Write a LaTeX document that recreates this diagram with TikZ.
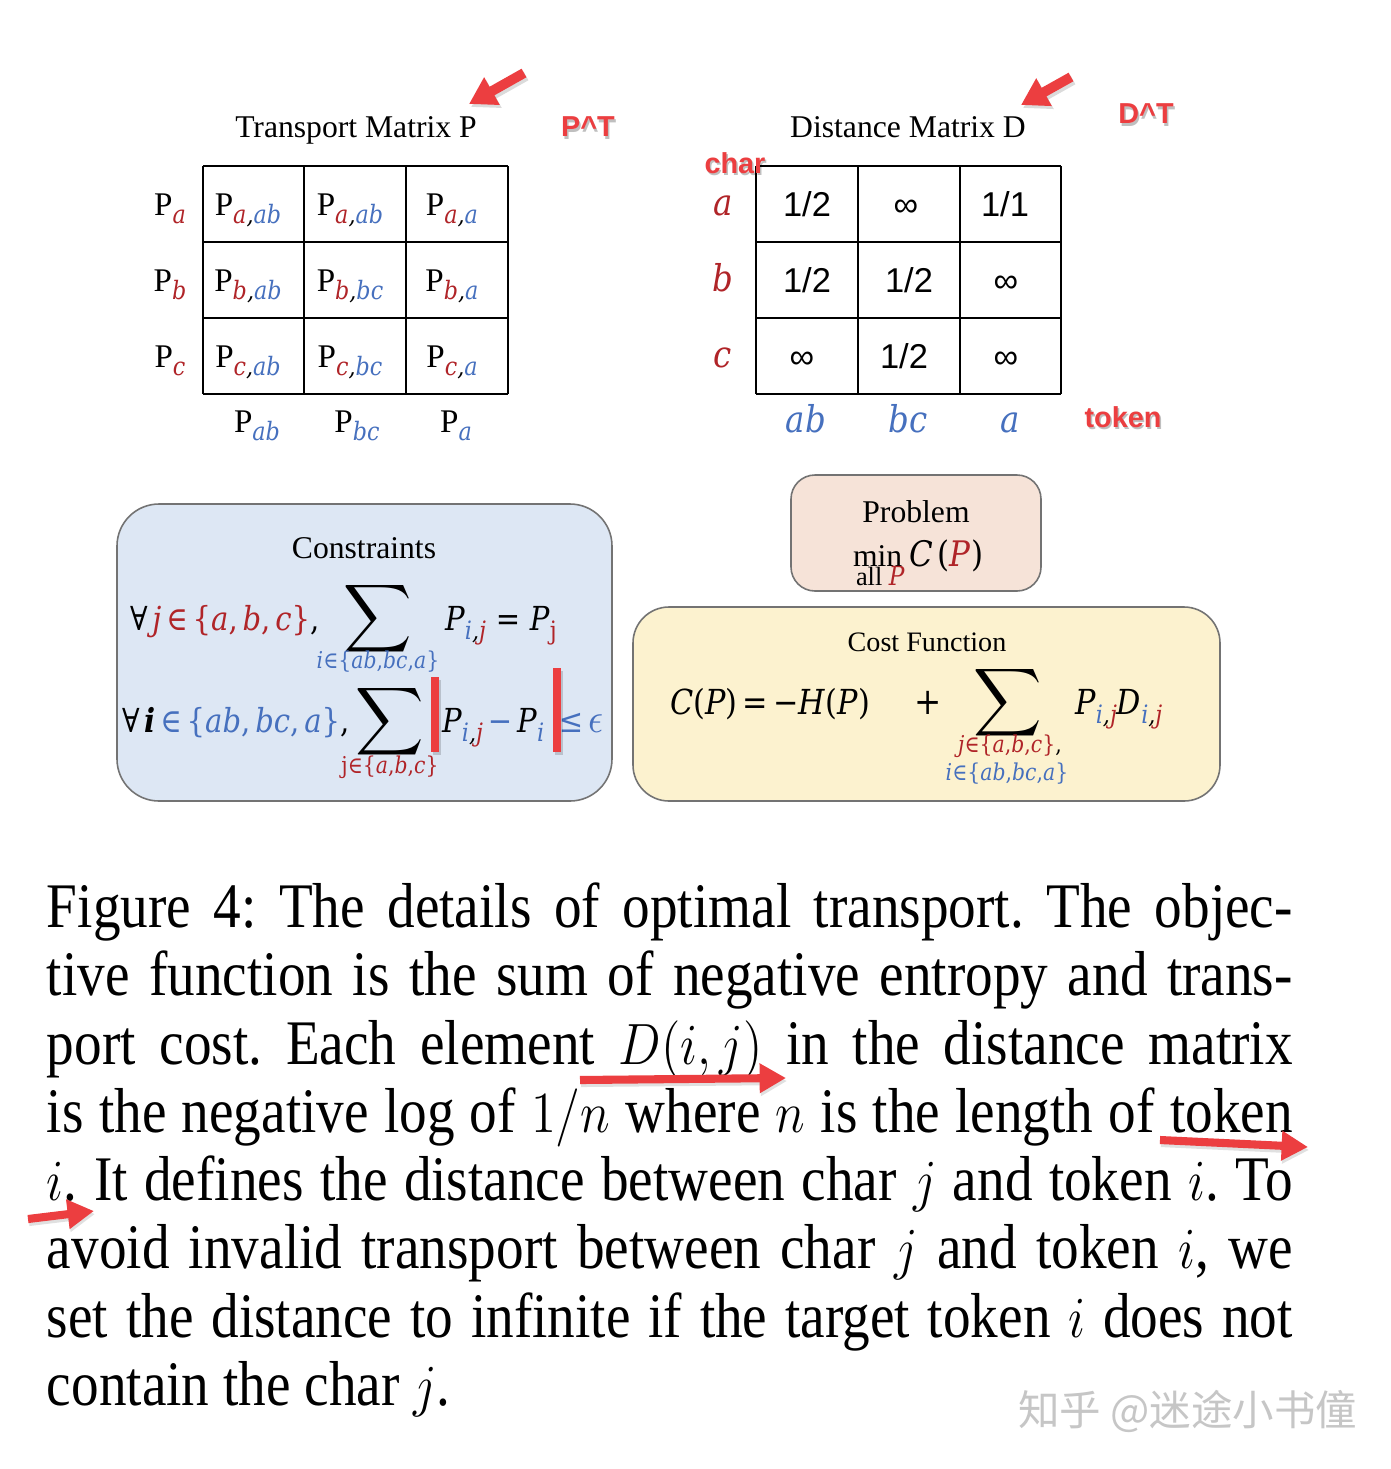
\documentclass[tikz,border=0pt]{standalone}
\usepackage{fontspec}
\usepackage{graphicx}
\setmainfont{Liberation Serif}
\newfontfamily\sansf{Liberation Sans}
\newfontfamily\mf{DejaVu Serif}
\newfontfamily\cjkf{Noto Sans CJK SC}
\usetikzlibrary{arrows.meta}
\definecolor{cred}{RGB}{176,36,40}
\definecolor{cblue}{RGB}{70,112,190}
\definecolor{annred}{RGB}{236,62,64}
\definecolor{boxblue}{RGB}{221,231,244}
\definecolor{boxpeach}{RGB}{246,227,216}
\definecolor{boxyellow}{RGB}{252,242,207}
\definecolor{boxedge}{RGB}{115,115,115}
\newcommand\rd[1]{\textcolor{cred}{#1}}
\newcommand\bl[1]{\textcolor{cblue}{#1}}
\newcommand\cz[1]{\scalebox{0.88}[1]{\mf #1}}
\newcommand\subf{\fontsize{7.2pt}{8pt}\selectfont}
\newcommand\psub[2]{P\raisebox{-0.25em}{\subf\cz{\itshape\rd{#1},\bl{#2}}}}
\newcommand\rsub[1]{P\raisebox{-0.25em}{\subf\cz{\itshape\rd{#1}}}}
\newcommand\bsub[1]{P\raisebox{-0.25em}{\subf\cz{\itshape\bl{#1}}}}
\newcommand\msub[1]{\raisebox{-0.28em}{\fontsize{7.2pt}{8pt}\selectfont #1}}
\newcommand\bigsum{\scalebox{1.35}{$\displaystyle\sum$}}
\newcommand\capl[1]{\scalebox{1}[1.15]{\makebox[12.45cm][s]{\frenchspacing #1}}}
\tikzset{
  ttl/.style={anchor=base,font=\fontsize{9pt}{10pt}\selectfont},
  cell/.style={anchor=base,font=\fontsize{9.4pt}{10pt}\selectfont},
  num/.style={anchor=base,font=\sansf\fontsize{9.8pt}{10pt}\selectfont},
  lab/.style={anchor=base,font=\fontsize{10.5pt}{11pt}\selectfont},
  gridline/.style={line width=0.8pt,black},
  anntext/.style={font=\sansf\bfseries\fontsize{8.2pt}{9pt}\selectfont,text=annred},
  fatarrow/.style={annred,line width=2.8pt,-{Triangle[length=7.5pt,width=8.5pt]}},
  fatshadow/.style={black,opacity=.14,line width=2.8pt,-{Triangle[length=7.5pt,width=8.5pt]}},
  capar/.style={annred,line width=2.3pt,-{Triangle[length=7.5pt,width=8pt]}},
  caparshadow/.style={black,opacity=.12,line width=2.3pt,-{Triangle[length=7.5pt,width=8pt]}},
  bar/.style={annred,line width=2.3pt},
  barshadow/.style={black,opacity=.16,line width=2.3pt},
  rbox/.style={draw=boxedge,line width=0.45pt},
  mth/.style={anchor=base west,font=\fontsize{9.4pt}{11pt}\selectfont},
  smallsub/.style={font=\fontsize{6.6pt}{8pt}\selectfont},
  capline/.style={anchor=base west,font=\fontsize{15.7pt}{18pt}\selectfont},
}
\newcommand\annot[4]{%
  \node[anntext,text=black,opacity=.25] at (#1+1.5,#2+2.5) {#4};
  \node[anntext] (#3) at (#1,#2) {#4};}
\begin{document}
\begin{tikzpicture}[x=0.01cm,y=-0.01cm,every node/.style={inner sep=0pt,outer sep=0pt}]
\useasboundingbox (0,0) rectangle (1390,1469);
\fill[white] (0,0) rectangle (1390,1469);

% ---------- titles
\node[ttl] (tP) at (356,137) {Transport Matrix P};
\node[ttl] (tD) at (908,137) {Distance Matrix D};

% ---------- left grid
\foreach \x in {203,304,406,508} \draw[gridline] (\x,166) -- (\x,394);
\foreach \y in {166,242,318,394} \draw[gridline] (203,\y) -- (508,\y);
\node[cell] (p11) at (248,215) {\psub{a}{ab}};
\node[cell] (p12) at (350,215) {\psub{a}{ab}};
\node[cell] (p13) at (452,215) {\psub{a}{a}};
\node[cell] (p21) at (248,291) {\psub{b}{ab}};
\node[cell] (p22) at (350,291) {\psub{b}{bc}};
\node[cell] (p23) at (452,291) {\psub{b}{a}};
\node[cell] (p31) at (248,367) {\psub{c}{ab}};
\node[cell] (p32) at (350,367) {\psub{c}{bc}};
\node[cell] (p33) at (452,367) {\psub{c}{a}};
\node[cell] (ra) at (170,215) {\rsub{a}};
\node[cell] (rb) at (170,291) {\rsub{b}};
\node[cell] (rc) at (170,367) {\rsub{c}};
\node[cell] (cab) at (257,432) {\bsub{ab}};
\node[cell] (cbc) at (357,432) {\bsub{bc}};
\node[cell] (ca) at (456,432) {\bsub{a}};

% ---------- right grid
\foreach \x in {756,858,960,1061} \draw[gridline] (\x,166) -- (\x,394);
\foreach \y in {166,242,318,394} \draw[gridline] (756,\y) -- (1061,\y);
\node[num] (d11) at (807,216) {1/2};
\node[num] (d12) at (906,216) {∞};
\node[num] (d13) at (1005,216) {1/1};
\node[num] (d21) at (807,292) {1/2};
\node[num] (d22) at (909,292) {1/2};
\node[num] (d23) at (1006,292) {∞};
\node[num] (d31) at (802,368) {∞};
\node[num] (d32) at (904,368) {1/2};
\node[num] (d33) at (1006,368) {∞};
\node[lab] (la) at (723,215) {\cz{\itshape\rd{a}}};
\node[lab] (lb) at (723,291) {\cz{\itshape\rd{b}}};
\node[lab] (lc) at (723,367) {\cz{\itshape\rd{c}}};
\node[lab] (lab) at (806,432) {\cz{\itshape\bl{ab}}};
\node[lab] (lbc) at (908,432) {\cz{\itshape\bl{bc}}};
\node[lab] (la2) at (1010,432) {\cz{\itshape\bl{a}}};

% ---------- annotations top
\annot{588}{127}{aPT}{P\textasciicircum T}
\annot{1146}{114}{aDT}{D\textasciicircum T}
\annot{735}{163}{achar}{char}
\annot{1123}{417}{atok}{token}
\coordinate (a1s) at (524,73);
\coordinate (a1e) at (469,104);
\coordinate (a2s) at (1071,77);
\coordinate (a2e) at (1021,105);
\coordinate (a1ss) at (526,76);
\coordinate (a1es) at (471,107);
\coordinate (a2ss) at (1073,80);
\coordinate (a2es) at (1023,108);
\draw[fatshadow] (a1ss) -- (a1es);
\draw[fatshadow] (a2ss) -- (a2es);
\draw[fatarrow] (a1s) -- (a1e);
\draw[fatarrow] (a2s) -- (a2e);

% ---------- constraints box
\draw[rbox,fill=boxblue,rounded corners=0.42cm] (117,504) rectangle (612,801);
\node[ttl] (cT) at (364,558) {Constraints};
\node[mth] (c1a) at (130,630) {\cz{∀\,\rd{\textit{j}\,∈\,\{\textit{a},\,\textit{b},\,\textit{c}\}},}};
\node (c1s) at (378,619) {\bigsum};
\node[smallsub] (c1u) at (378,662) {\cz{\bl{\textit{i}∈\{\textit{ab},\textit{bc},\textit{a}\}}}};
\node[mth] (c1b) at (445,630) {\cz{\textit{P}\msub{\itshape\bl{i},\rd{j}}\,\,=\,\,\textit{P}\msub{\rd{j}}}};
\node[mth] (c2a) at (122,732) {\cz{∀\,\textbf{\textit{i}}\,\bl{∈\,\{\textit{ab},\,\textit{bc},\,\textit{a}\}},}};
\node (c2s) at (390,722) {\bigsum};
\node[smallsub] (c2u) at (390,767) {\cz{\rd{j∈\{\textit{a},\textit{b},\textit{c}\}}}};
\node[mth] (c2b) at (442,732) {\cz{\textit{P}\msub{\itshape\bl{i},\rd{j}}\,\bl{−}\,\textit{P}\msub{\itshape\bl{i}}\,\,\,\bl{≤\,\scalebox{1.3}{$\epsilon$}}}};
\coordinate (b1t) at (435,677);
\coordinate (b1b) at (435,752);
\coordinate (b2t) at (557,668);
\coordinate (b2b) at (557,752);
\coordinate (b1ts) at (437,680);
\coordinate (b1bs) at (437,755);
\coordinate (b2ts) at (559,671);
\coordinate (b2bs) at (559,755);
\draw[barshadow] (b1ts) -- (b1bs);
\draw[barshadow] (b2ts) -- (b2bs);
\draw[bar] (b1t) -- (b1b);
\draw[bar] (b2t) -- (b2b);

% ---------- problem box
\draw[rbox,fill=boxpeach,rounded corners=0.24cm] (791,475) rectangle (1041,591);
\node[ttl] (pT) at (916,522) {Problem};
\node[anchor=base west,font=\fontsize{9pt}{10pt}\selectfont] (pmin) at (853,566) {min};
\node[anchor=base west,font=\fontsize{10pt}{11pt}\selectfont] (pC) at (909,566) {\cz{\textit{C}\,(\rd{\textit{P}})}};
\node[anchor=base west,font=\fontsize{7.5pt}{8pt}\selectfont] (pall) at (856,585) {all \rd{\cz{\itshape P}}};

% ---------- cost function box
\draw[rbox,fill=boxyellow,rounded corners=0.36cm] (633,607) rectangle (1220,801);
\node[anchor=base,font=\fontsize{8pt}{9pt}\selectfont] (fT) at (927,651) {Cost Function};
\node[anchor=base west,font=\fontsize{9.8pt}{11pt}\selectfont] (f1) at (670,714) {\cz{\textit{C}(\textit{P})\,=\,−\textit{H}(\textit{P})}};
\node[font=\fontsize{10.5pt}{11pt}\selectfont] (fplus) at (928,703) {\cz{+}};
\node (fsum) at (1008,703) {\bigsum};
\node[smallsub] (fu1) at (1010,746) {\cz{\rd{\textit{j}∈\{\textit{a},\textit{b},\textit{c}\}},}};
\node[smallsub] (fu2) at (1007,774) {\cz{\bl{\textit{i}∈\{\textit{ab},\textit{bc},\textit{a}\}}}};
\node[anchor=base west,font=\fontsize{9.8pt}{11pt}\selectfont] (f2) at (1075,714) {\cz{\textit{P}\msub{\itshape\bl{i},\rd{j}}\textit{D}\msub{\itshape\bl{i},\rd{j}}}};

% ---------- caption
\node[capline] (l1) at (47,927) {\capl{Figure 4: The details of optimal transport. The objec-}};
\node[capline] (l2) at (47,995) {\capl{tive function is the sum of negative entropy and trans-}};
\node[capline] (l3) at (47,1064) {\capl{port cost. Each element $D(i,j)$ in the distance matrix}};
\node[capline] (l4) at (47,1132) {\capl{is the negative log of $1/n$ where $n$ is the length of token}};
\node[capline] (l5) at (47,1200) {\capl{$i$. It defines the distance between char $j$ and token $i$. To}};
\node[capline] (l6) at (47,1268) {\capl{avoid invalid transport between char $j$ and token $i$, we}};
\node[capline] (l7) at (47,1337) {\capl{set the distance to infinite if the target token $i$ does not}};
\node[capline] (l8) at (47,1405) {\scalebox{1}[1.15]{contain the char $j$.}};

\coordinate (c1s) at (580,1080);
\coordinate (c1e) at (786,1078);
\coordinate (c2s) at (1160,1140);
\coordinate (c2e) at (1308,1147);
\coordinate (c3s) at (28,1219);
\coordinate (c3e) at (94,1211);
\coordinate (c1ss) at (581,1083);
\coordinate (c1es) at (787,1081);
\coordinate (c2ss) at (1161,1143);
\coordinate (c2es) at (1309,1150);
\coordinate (c3ss) at (29,1222);
\coordinate (c3es) at (95,1214);
\draw[caparshadow] (c1ss) -- (c1es);
\draw[caparshadow] (c2ss) -- (c2es);
\draw[caparshadow] (c3ss) -- (c3es);
\draw[capar] (c1s) -- (c1e);
\draw[capar] (c2s) -- (c2e);
\draw[capar] (c3s) -- (c3e);

% ---------- watermark
\node[anchor=base west,font=\cjkf\fontsize{11.8pt}{12pt}\selectfont,text=gray!45] (wm) at (1018,1425) {知乎 @迷途小书僮};
\end{tikzpicture}
\end{document}
